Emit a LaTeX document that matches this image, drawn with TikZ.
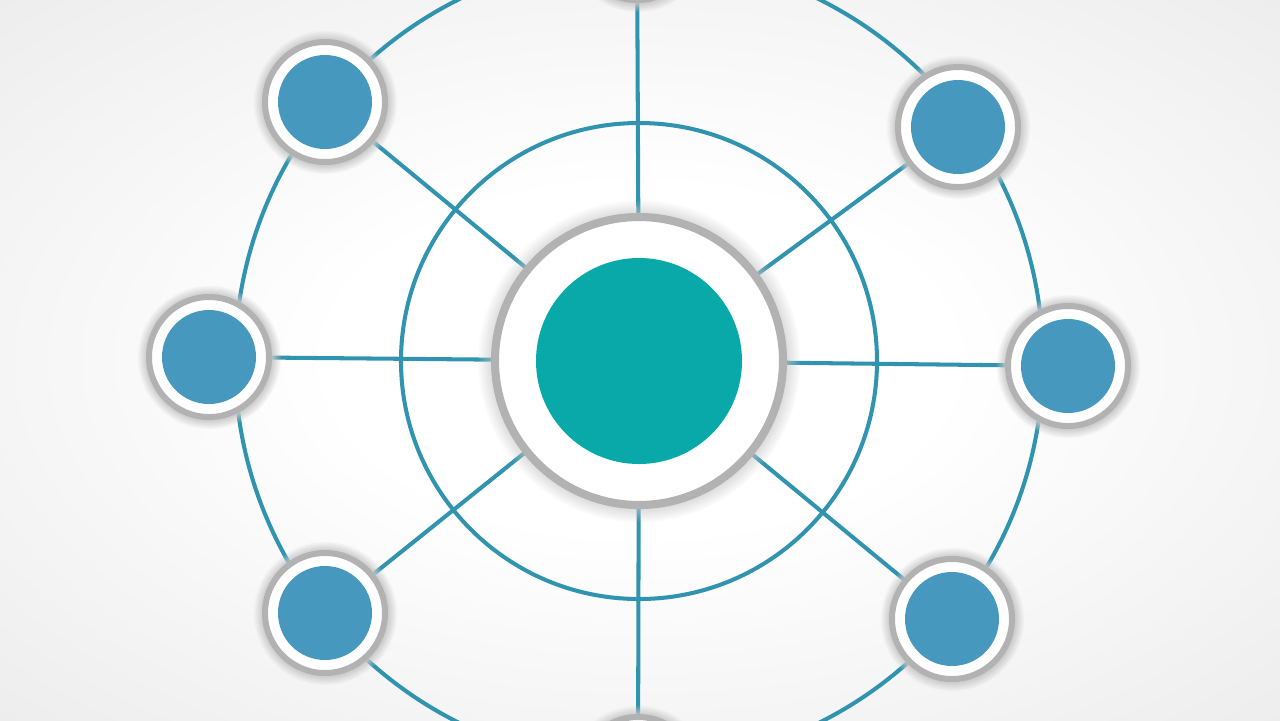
\documentclass[tikz,border=0pt]{standalone}
\usetikzlibrary{shadows}
\definecolor{spoke}{RGB}{48,148,176}
\definecolor{satblue}{RGB}{70,152,190}
\definecolor{coreteal}{RGB}{8,169,168}
\definecolor{rimgray}{RGB}{178,178,178}
\definecolor{bgedge}{RGB}{226,226,226}
\definecolor{bgcorner}{RGB}{212,212,212}
\pgfdeclareradialshading{backdrop}{\pgfpoint{0bp}{0bp}}{color(0bp)=(white); color(12bp)=(white); color(50bp)=(bgedge); color(71bp)=(bgcorner)}
\pgfdeclarelayer{back}
\pgfdeclarelayer{wires}
\pgfsetlayers{back,wires,main}
\tikzset{
  ring/.style={draw=spoke, line width=1.15pt},
  sat/.style={circle, draw=rimgray, line width=1.7pt, fill=white, minimum size=12mm, inner sep=0pt,
    circular glow={fill=gray!45, shadow scale=1.2},
    path picture={\fill[satblue] (path picture bounding box.center) circle (4.7mm);}},
  core/.style={circle, draw=rimgray, line width=2.3pt, fill=white, minimum size=28.8mm, inner sep=0pt,
    circular glow={fill=gray!45, shadow scale=1.12},
    path picture={\fill[coreteal] (path picture bounding box.center) circle (10.3mm);}}
}
\begin{document}
\begin{tikzpicture}[x=0.1mm,y=-0.1mm]
\useasboundingbox (0,0) rectangle (1280,720);
\begin{pgfonlayer}{back}
\shade[shading=backdrop] (0,0) rectangle (1280,720);
\end{pgfonlayer}
% hub and satellites
\node[core] (hub) at (639,361) {};
\node[sat] (n) at (637,-60) {};
\node[sat] (ne) at (958,127) {};
\node[sat] (e) at (1068,366) {};
\node[sat] (se) at (952,619) {};
\node[sat] (s) at (638,777) {};
\node[sat] (sw) at (325,613) {};
\node[sat] (w) at (209,357) {};
\node[sat] (nw) at (325,102) {};
\begin{pgfonlayer}{wires}
\draw[ring] (hub.center) circle (238);
\draw[ring] (hub.center) circle (404);
\foreach \s in {n,ne,e,se,s,sw,w,nw}
  \draw[ring] (hub.center) -- (\s.center);
\end{pgfonlayer}
\end{tikzpicture}
\end{document}
